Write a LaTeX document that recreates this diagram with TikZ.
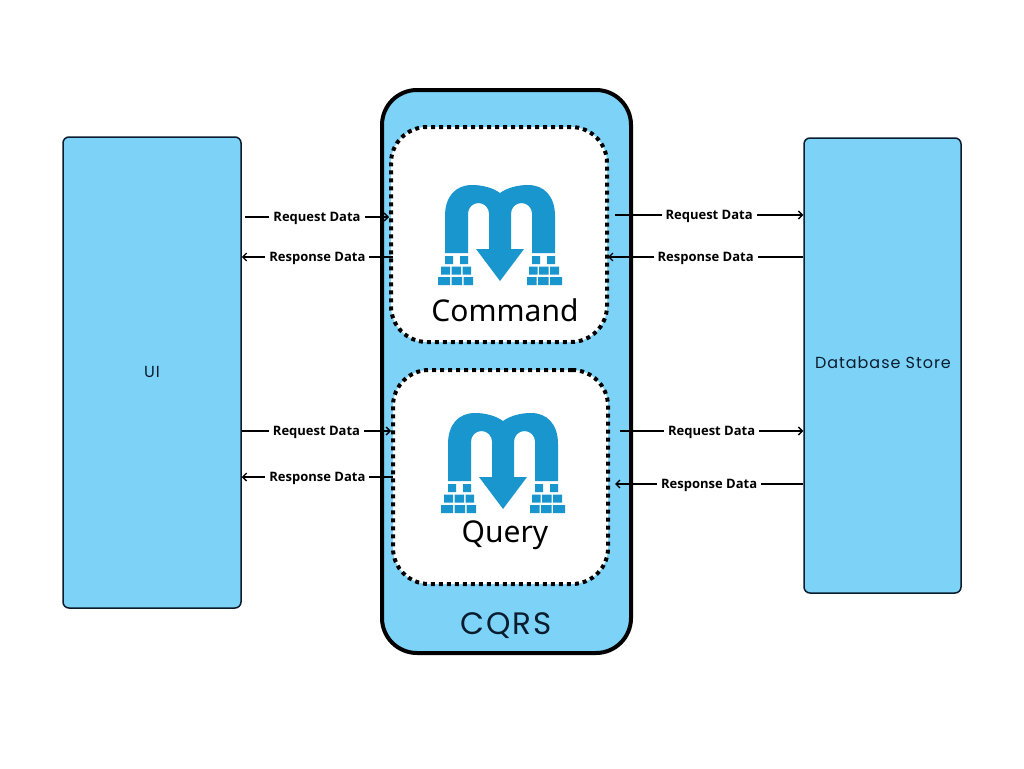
\documentclass[tikz,border=0pt]{standalone}
\usepackage{fontspec}
\usetikzlibrary{arrows.meta}
\setmainfont{Open Sans}
\newfontfamily\widefont[LetterSpace=6]{Poppins}
\newfontfamily\titlefont{Noto Sans}
\definecolor{boxblue}{HTML}{7CD3F7}
\definecolor{logoblue}{HTML}{1A96CF}
\definecolor{inkblue}{HTML}{0A1C2E}
\tikzset{sidebox/.style = {shape=rectangle,draw=inkblue,line width=1.5pt,fill=boxblue,rounded corners=6pt,inner sep=0pt}}
\tikzset{outerbox/.style = {shape=rectangle,draw=black,line width=4pt,fill=boxblue,rounded corners=35pt,inner sep=0pt}}
\tikzset{innerbox/.style = {shape=rectangle,draw=black,line width=4pt,dash pattern=on 4pt off 4pt,fill=white,rounded corners=36pt,inner sep=0pt}}
\tikzset{edge/.style = {-{Straight Barb[length=4pt,width=8pt]},line width=1.3pt,black}}
\tikzset{datalabel/.style = {fill=white,inner sep=4pt,text height=9pt,text depth=0pt,font=\fontsize{13}{15}\selectfont\bfseries,text=black}}
\tikzset{boxtext/.style = {font=\widefont\fontsize{16}{18}\selectfont,text=inkblue}}
\tikzset{title/.style = {font=\titlefont\fontsize{30}{34}\selectfont,text=black}}
\tikzset{bricks/.pic = {
    \fill[logoblue] (-55,26) rectangle (-47,34) (-40,26) rectangle (-32,34)
        (-59,36.5) rectangle (-50,44.5) (-48.5,36.5) rectangle (-39,44.5) (-37.5,36.5) rectangle (-29,44.5)
        (-62,47) rectangle (-50,55) (-48.5,47) rectangle (-38,55) (-36.5,47) rectangle (-27,55);
}}
\tikzset{logo/.pic = {
    \fill[logoblue] (-55,23) -- (-55,-14) .. controls (-55,-34) and (-44,-45) .. (-28,-45)
        .. controls (-17,-45) and (-7,-42) .. (0,-37) .. controls (7,-42) and (17,-45) .. (28,-45)
        .. controls (44,-45) and (55,-34) .. (55,-14) -- (55,23) -- (32,23) -- (32,-16.5)
        .. controls (32,-22.3) and (27.3,-27) .. (21.5,-27) .. controls (15.7,-27) and (11,-22.3) .. (11,-16.5)
        -- (11,19) -- (24,19) -- (0,51) -- (-24,19) -- (-11,19) -- (-11,-16.5)
        .. controls (-11,-22.3) and (-15.7,-27) .. (-21.5,-27) .. controls (-27.3,-27) and (-32,-22.3) .. (-32,-16.5)
        -- (-32,23) -- cycle;
    \pic {bricks};
    \pic[xscale=-1] {bricks};
}}

\begin{document}
\begin{tikzpicture}[x=1pt,y=-1pt]
    \useasboundingbox (0,0) rectangle (1024,768);
    \node[sidebox,minimum width=178pt,minimum height=471pt] (ui) at (152,372.5) {};
    \node[boxtext] (uitext) at (152,372) {UI};
    \node[sidebox,minimum width=157pt,minimum height=455pt] (db) at (882.5,365.5) {};
    \node[boxtext] (dbtext) at (883,363) {Database Store};
    \node[outerbox,minimum width=249pt,minimum height=563pt] (cqrs) at (506.5,371.5) {};
    \node[innerbox,minimum width=216pt,minimum height=215pt] (cmd) at (499,234.5) {};
    \node[innerbox,minimum width=215pt,minimum height=214pt] (qry) at (500.5,477) {};
    \pic (cmdlogo) at (500,230) {logo};
    \pic (qrylogo) at (503,458) {logo};
    \node[title] (cmdtext) at (505,310) {Command};
    \node[title] (qrytext) at (505,535) {Query};
    \node[font=\widefont\fontsize{31}{34}\selectfont,text=inkblue] (cqrstext) at (506,626) {CQRS};
    \coordinate (uicmdreq) at (245,217);
    \draw[edge] (uicmdreq) -- (cmd.west |- uicmdreq) node [midway,datalabel] {Request Data};
    \coordinate (uicmdres) at (393,257);
    \draw[edge] (uicmdres) -- (ui.east |- uicmdres) node [midway,datalabel] {Response Data};
    \coordinate (uiqryreq) at (242,431);
    \draw[edge] (uiqryreq) -- (qry.west |- uiqryreq) node [midway,datalabel] {Request Data};
    \coordinate (uiqryres) at (393,477);
    \draw[edge] (uiqryres) -- (ui.east |- uiqryres) node [midway,datalabel] {Response Data};
    \coordinate (cmddbreq) at (615,215);
    \draw[edge] (cmddbreq) -- (db.west |- cmddbreq) node [midway,datalabel] {Request Data};
    \coordinate (cmddbres) at (608,257);
    \draw[edge] (db.west |- cmddbres) -- (cmddbres) node [midway,datalabel] {Response Data};
    \coordinate (qrydbreq) at (620,431);
    \draw[edge] (qrydbreq) -- (db.west |- qrydbreq) node [midway,datalabel] {Request Data};
    \coordinate (qrydbres) at (615,484);
    \draw[edge] (db.west |- qrydbres) -- (qrydbres) node [midway,datalabel] {Response Data};
\end{tikzpicture}
\end{document}
